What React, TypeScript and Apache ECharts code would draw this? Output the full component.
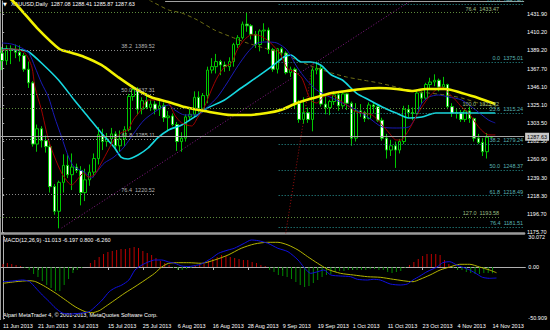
import React, { useEffect, useRef } from 'react';
import * as echarts from 'echarts';

// ---- tick labels ----
const dateLabels = ['11 Jun 2013', '21 Jun 2013', '3 Jul 2013', '15 Jul 2013', '25 Jul 2013', '6 Aug 2013', '16 Aug 2013', '28 Aug 2013', '9 Sep 2013', '19 Sep 2013', '1 Oct 2013', '11 Oct 2013', '23 Oct 2013', '4 Nov 2013', '14 Nov 2013'];
const priceTicks = [1431.9, 1410.2, 1389.2, 1367.7, 1346.1, 1325.1, 1303.5, 1282.5, 1260.9, 1239.3, 1218.3, 1196.7, 1175.7];
const macdTicks = [30.072, 0, -50.909];
const macdTickLabels = ['30.072', '0.00', '-50.909'];
const BAR_SLOTS = 120; // 113 daily bars + right shift

// ---- daily candles (XAUUSD) ----
const opens = [1386,1377,1391,1389,1387,1383,1367,1351,1279,1297,1283,1276,1229,1200,1234,1254,1243,1252,1248,1222,1237,1246,1262,1290,1282,1285,1291,1277,1285,1296,1335,1343,1320,1330,1322,1326,1320,1324,1310,1312,1302,1282,1286,1311,1314,1334,1321,1336,1366,1370,1376,1372,1370,1376,1396,1404,1420,1418,1408,1396,1412,1413,1390,1367,1391,1386,1363,1367,1327,1308,1316,1308,1366,1368,1326,1322,1329,1337,1324,1338,1327,1286,1318,1316,1309,1325,1323,1307,1286,1272,1277,1272,1282,1320,1316,1315,1339,1333,1349,1352,1354,1346,1349,1323,1315,1316,1308,1318,1309,1286,1281,1270,1287.08];
const highs = [1393,1395,1395,1396,1395,1386,1376,1353,1302,1300,1289,1282,1232,1236,1267,1266,1268,1256,1253,1250,1255,1268,1299,1297,1292,1298,1294,1295,1300,1338,1348,1346,1334,1339,1331,1330,1332,1328,1318,1315,1305,1293,1314,1321,1341,1341,1339,1370,1380,1385,1378,1376,1381,1398,1407,1423,1434,1420,1412,1414,1421,1416,1392,1392,1393,1388,1370,1369,1331,1334,1322,1369,1376,1371,1336,1331,1341,1339,1341,1339,1329,1327,1326,1318,1328,1328,1326,1310,1291,1284,1282,1285,1324,1325,1322,1343,1341,1351,1357,1361,1356,1358,1350,1327,1321,1319,1321,1323,1310,1291,1286,1292,1288.41];
const lows = [1366,1372,1373,1380,1376,1364,1345,1276,1270,1275,1269,1222,1196,1180,1222,1239,1225,1245,1207,1212,1230,1240,1255,1272,1276,1278,1273,1270,1276,1294,1330,1313,1314,1320,1318,1314,1312,1305,1294,1300,1271,1270,1282,1306,1310,1316,1318,1327,1362,1362,1360,1364,1365,1370,1392,1402,1411,1402,1392,1388,1400,1385,1364,1362,1380,1361,1358,1320,1304,1303,1304,1294,1361,1323,1314,1313,1325,1318,1320,1319,1277,1282,1311,1305,1308,1315,1305,1283,1262,1265,1251,1268,1279,1310,1307,1310,1326,1331,1343,1347,1341,1343,1320,1311,1309,1305,1305,1304,1282,1279,1265,1262,1285.87];
const closes = [1377,1391,1389,1387,1383,1367,1351,1279,1297,1283,1276,1229,1200,1234,1254,1243,1252,1248,1222,1237,1246,1262,1290,1282,1285,1291,1277,1285,1296,1335,1343,1320,1330,1322,1326,1320,1324,1310,1312,1302,1282,1286,1311,1314,1334,1321,1336,1366,1370,1376,1372,1370,1376,1396,1404,1420,1418,1408,1396,1412,1413,1390,1367,1391,1386,1363,1367,1327,1308,1316,1308,1366,1368,1326,1322,1329,1337,1324,1338,1327,1286,1318,1316,1309,1325,1323,1307,1286,1272,1277,1272,1282,1320,1316,1315,1339,1333,1349,1352,1354,1346,1349,1323,1315,1316,1308,1318,1309,1286,1281,1270,1287,1287.63];
const lastPrice = 1287.63;

// ---- moving averages: [bar index, price] ----
const maYellow = [[0,1453],[2.2,1448.4],[8,1415.4],[13.1,1390.8],[15.2,1387.2],[18.8,1381.4],[22.7,1372],[26.5,1357.9],[30.2,1345],[34,1334.4],[38.1,1328.5],[41.8,1322.6],[46.3,1317.9],[52.5,1313.2],[56.1,1313.2],[60.6,1315.5],[63.8,1319.1],[67.5,1327.3],[71.3,1333.2],[75.4,1339],[78.8,1341.4],[82.5,1343.8],[86.3,1345],[90.2,1343.8],[93.8,1341.4],[97,1343.8],[101.6,1343.8],[105.2,1339],[109,1333.2],[112.9,1326.1]];
const maCyan = [[0,1390.8],[4.5,1389.6],[6.1,1387.2],[9,1374.3],[12.9,1354.3],[16.5,1330.8],[19.7,1310.9],[22.7,1292.1],[25.6,1275.6],[27.2,1263.8],[28.8,1261.5],[31.1,1266.2],[33.4,1274.4],[35.6,1286.2],[38.1,1295.6],[41.1,1301.5],[44.7,1313.2],[47,1321.4],[50.9,1330.8],[54.7,1344.9],[58.4,1357.9],[62.2,1372],[64.5,1381.4],[66.1,1383.7],[68.4,1375.5],[70.6,1375.5],[72.9,1372],[75.4,1360.2],[77.9,1354.3],[81.1,1339],[84,1330.8],[87,1322.6],[90.2,1315.5],[93.1,1309.7],[96.1,1310.9],[99.3,1315.5],[102.2,1315.5],[109,1315.5],[112.9,1315.5]];
const maBlue = [[0,1397.8],[2.2,1396.6],[4.5,1391.9],[6.1,1386.1],[7.5,1369.6],[9,1350.8],[10.6,1334.3],[12,1310.8],[13.6,1287.3],[15.2,1263.8],[16.5,1252.1],[18.8,1246.2],[20.4,1239.2],[22,1248.6],[23.4,1256.8],[25.6,1263.8],[27.9,1275.6],[30.2,1292.1],[32.5,1307.3],[35.6,1319.1],[38.1,1325],[39.5,1319.1],[41.8,1313.2],[44.7,1313.2],[47,1322.6],[49.3,1334.4],[51.5,1350.8],[53.8,1369.6],[56.1,1386.1],[58.4,1397.8],[60.6,1399],[62.9,1397.8],[65.2,1389.6],[67.5,1369.6],[69.7,1354.3],[72,1342.6],[75,1334.4],[77.9,1327.3],[81.1,1319.1],[84,1309.7],[87,1299.1],[90.2,1297.9],[93.1,1299.1],[94.7,1310.8],[96.1,1327.3],[97.7,1334.4],[99.9,1336.7],[102.2,1334.4],[105.2,1330.8],[108.4,1319.1],[111.3,1307.4],[112.9,1303.8]];
const maRed = [[0,1389.6],[2.9,1390.8],[5.2,1386.1],[6.8,1369.6],[7.5,1346.1],[9,1319.1],[10.6,1283.8],[12,1263.8],[13.6,1245],[15.2,1233.3],[15.9,1230.9],[17.5,1239.2],[18.6,1245],[19.7,1240.3],[21.1,1242.7],[22.7,1256.8],[24.3,1272.1],[25.6,1283.8],[27.2,1292.1],[28.8,1295.6],[30,1307.4],[31.8,1319.1],[33.4,1330.8],[35.6,1330.8],[38.1,1327.3],[39.5,1313.2],[41.1,1303.8],[43.4,1300.3],[44.7,1309.7],[46.3,1322.6],[47.9,1342.6],[49.3,1357.9],[50.9,1369.6],[52.5,1374.3],[53.8,1389.6],[55.4,1401.4],[57,1407.2],[58.4,1407.2],[60,1403.7],[61.5,1397.8],[63.8,1383.7],[65.2,1368.4],[67,1363.7],[68.6,1356.7],[70.6,1330.8],[72,1327.3],[73.6,1334.4],[75.4,1336.7],[77.2,1330.8],[79.5,1322.6],[81.1,1316.7],[82.5,1315.5],[84.7,1313.2],[87,1301.5],[88.6,1292.1],[90.2,1283.8],[91.3,1283.8],[93.1,1295.6],[94.7,1310.8],[96.1,1322.6],[97.7,1334.4],[99.3,1342.6],[100.6,1346.1],[102.2,1339],[103.8,1330.8],[105.2,1322.6],[106.8,1315.5],[108.4,1303.8],[109.7,1295.6],[111.3,1289.8],[112.9,1289.8]];
const maOlive = [[25,1470],[33.6,1448.4],[38.1,1436.6],[41.1,1433.1],[44.7,1424.8],[48.6,1413.1],[52.5,1404.9],[56.1,1397.8],[60,1391.9],[63.8,1386.1],[67.5,1377.8],[71.3,1369.6],[75.4,1362.6],[78.8,1357.9],[82.5,1354.3],[86.3,1350.8],[90.2,1346.1],[93.8,1341.4],[97.7,1339],[101.5,1336.7],[105.2,1333.2],[109,1327.3],[113.1,1322.6]];

// ---- drawn objects ----
const trendLine = [[13.6, 1180.4], [93.8, 1448.4]];
const fibDiagonal = [[63.3, 1121.7], [71.1, 1375.01]];
const topLevel = { price: 1446.4, span: [37.3, 119.5] };
const fibGray = [['38.2', 1389.52], ['50.0', 1337.31], ['61.8', 1285.11], ['76.4', 1220.52]];
const fibGreen = [['76.4', 1433.47], ['100.0', 1321.62], ['127.0', 1193.58]];
const fibTeal = [['127.0', 1443.40], ['0.0', 1375.01], ['23.6', 1315.24], ['38.2', 1279.24], ['50.0', 1248.37], ['61.8', 1218.49], ['76.4', 1181.51]];
const fibGraySpan = [-0.5, 35.2];
const fibGreenSpan = [-0.5, 114];
const fibTealSpan = [63.3, 119.5];

// ---- MACD(12,26,9) ----
const macdHist = [3,4,3,2,1,-1,-3,-7,-10,-14,-18,-21,-24,-24,-18,-12,-6,-3,-1,0,4,7,10,13,15,16,17,18,18,19,20,19,16,14,12,9,6,4,2,-1,-3,-3,-2,-1,1,2,3,6,8,10,12,11,10,9,8,7,7,5,4,2,1,-3,-5,-8,-9,-10,-12,-15,-18,-20,-19,-16,-13,-10,-8,-7,-5,-4,-4,-3,-3,-3,-3,-3,-2,-2,-3,-3,-5,-6,-5,-4,-1,2,5,8,11,13,13,13,12,7,3,-1,-3,-3,-5,-6,-7,-7,-6,-6,-6.26];
const macdLine = [[0,-14.7],[2.2,-14],[4.5,-13],[6.1,-14.7],[7.5,-21],[9,-28],[10.6,-34.7],[12,-41],[13.6,-46],[15.2,-47],[17.5,-46.3],[19.7,-44.7],[21.1,-39.7],[22.7,-33],[24.3,-24.7],[25.6,-21],[27.2,-18],[28.8,-13],[30.2,-3],[31.8,2],[33.4,5.3],[34.7,7],[36.3,7],[37.9,5],[39.3,3.7],[40.9,1],[42.5,0.5],[44,1.5],[45.4,3],[47.7,8.7],[49.3,13.7],[51.5,17],[52.9,18.7],[55.2,23.7],[56.8,27],[58.4,26.3],[60.6,23.7],[62.9,18.7],[65.2,15.3],[67.5,7],[68.8,0],[70.4,-6.3],[72,-4.7],[73.4,-3],[75,-8],[77.2,-9],[79.5,-9.7],[81.1,-12.3],[83.4,-13],[84.7,-12.3],[86.3,-13],[88.6,-17],[90.9,-18],[92.5,-17],[93.8,-13],[95.4,-9],[97,-4.7],[99.3,0],[100.6,4.3],[102.2,5.3],[103.8,2],[105.2,-0.3],[106.8,-3],[108.4,-7],[109.7,-10.3],[111.3,-11.3],[112.9,-11]];
const macdSignal = [[0,-16.3],[2.9,-14.7],[6.1,-13.7],[7.5,-14.7],[9.7,-19.7],[12,-26],[14.3,-33],[16.5,-39.7],[18.8,-44.7],[20.4,-45.7],[22,-43.7],[23.4,-39.7],[25.6,-33],[27.9,-26],[30.2,-19.7],[32.5,-13],[34.7,-6.3],[36.3,0],[37.9,3.7],[40.2,4.3],[42.5,4.3],[45.4,3.7],[48.4,7],[51.5,12],[54.5,18.7],[57.5,23],[60.6,24.7],[62.9,24.7],[65.2,22],[67.5,17],[69.7,10.3],[72,3.7],[74.3,-2.3],[77.2,-6.3],[80.2,-8],[83.4,-9.7],[86.3,-10.3],[89.3,-12.3],[93.8,-14.7],[95.4,-12.3],[97.7,-8],[100,-3],[102.2,0],[104.5,2.7],[106.8,2.7],[109,0],[111.3,-3],[112.9,-5.7]];

const titleText = 'XAUUSD,Daily  1287.08 1288.41 1285.87 1287.63';
const macdTitle = 'MACD(12,26,9) -11.013 -6.197 0.800 -6.260';
const copyright = 'Alpari MetaTrader 4, \u00a9 2001-2013, MetaQuotes Software Corp.';

const FONT = 'Liberation Sans, Arial, sans-serif';

function fibSegments(levels: any[], span: number[], lineColor: string, textColor: string) {
  return levels.map(([lvl, price]) => [
    {
      coord: [span[0], price],
      lineStyle: { color: lineColor, type: [1, 2], width: 1 },
      label: {
        show: true,
        position: 'insideEndTop',
        distance: 1,
        formatter: `${lvl}  ${price.toFixed(2)}`,
        color: textColor,
        fontSize: 5.5,
        fontFamily: FONT,
      },
    },
    { coord: [span[1], price] },
  ]);
}

export default function App() {
  const ref = useRef<HTMLDivElement>(null);
  useEffect(() => {
    document.body.style.margin = '0';
    const chart = echarts.init(ref.current!, null, { renderer: 'svg' });
    const cats = Array.from({ length: BAR_SLOTS }, (_, i) => String(i));
    const candleData = opens.map((o, i) => [o, closes[i], lows[i], highs[i]]);
    const lineSeries = (data: number[][], color: string, width: number, extra: any = {}) => ({
      type: 'line',
      xAxisIndex: 2,
      yAxisIndex: 0,
      data,
      symbol: 'none',
      smooth: 0.25,
      silent: true,
      lineStyle: { color, width, ...extra },
      z: 3,
    });
    const option: any = {
      animation: false,
      backgroundColor: '#000000',
      grid: [
        { left: -2, width: 528, top: 1, height: 232 },
        { left: -2, width: 528, top: 236, height: 83 },
      ],
      xAxis: [
        {
          type: 'category', gridIndex: 0, data: cats, boundaryGap: true,
          axisLine: { show: true, lineStyle: { color: '#9a9a9a', width: 2.5 } },
          axisTick: { show: false }, axisLabel: { show: false }, splitLine: { show: false },
        },
        {
          type: 'category', gridIndex: 1, data: cats, boundaryGap: true,
          axisLine: { show: true, lineStyle: { color: '#b0b0b0', width: 1 } },
          axisTick: { show: true, alignWithLabel: true, length: 3, interval: (i: number) => i % 8 === 0 && i / 8 < dateLabels.length, lineStyle: { color: '#b0b0b0' } },
          axisLabel: {
            interval: 0, align: 'left', margin: 4, color: '#ffffff', fontSize: 5.5, fontFamily: FONT,
            formatter: (_v: string, i: number) => (i % 8 === 0 && i / 8 < dateLabels.length ? dateLabels[i / 8] : ''),
          },
          splitLine: { show: false },
        },
        { type: 'value', gridIndex: 0, min: -0.5, max: BAR_SLOTS - 0.5, show: false },
        { type: 'value', gridIndex: 1, min: -0.5, max: BAR_SLOTS - 0.5, show: false },
      ],
      yAxis: [
        {
          type: 'value', gridIndex: 0, position: 'right', min: 1174.5, max: 1447.17,
          axisLine: { show: true, lineStyle: { color: '#b0b0b0' } },
          axisTick: { show: true, length: 2, customValues: priceTicks, lineStyle: { color: '#b0b0b0' } },
          axisLabel: { customValues: priceTicks, margin: 3, color: '#ffffff', fontSize: 5.5, fontFamily: FONT, formatter: (v: number) => v.toFixed(2) },
          splitLine: { show: false },
        },
        {
          type: 'value', gridIndex: 1, position: 'right', min: -52, max: 31,
          axisLine: { show: true, lineStyle: { color: '#b0b0b0' } },
          axisTick: { show: true, length: 2, customValues: macdTicks, lineStyle: { color: '#b0b0b0' } },
          axisLabel: {
            customValues: macdTicks, margin: 3, color: '#ffffff', fontSize: 5.5, fontFamily: FONT,
            formatter: (v: number) => { const k = macdTicks.findIndex((t) => Math.abs(t - v) < 1e-6); return k >= 0 ? macdTickLabels[k] : ''; },
          },
          splitLine: { show: false },
        },
      ],
      series: [
        {
          type: 'candlestick', xAxisIndex: 0, yAxisIndex: 0, data: candleData, barWidth: 3,
          itemStyle: { color: '#000000', color0: '#ffffff', borderColor: '#00c800', borderColor0: '#00c800', borderWidth: 1 },
          z: 2,
          markLine: {
            silent: true, symbol: ['none', 'none'], animation: false, z: 10,
            lineStyle: { color: '#a8a8a8', type: 'solid', width: 1 },
            label: { show: true, position: 'end', distance: 1, formatter: lastPrice.toFixed(2), color: '#000', backgroundColor: '#c8c8c8', padding: [1, 2], fontSize: 5.5, fontFamily: FONT },
            data: [{ yAxis: lastPrice }],
          },
        },
        lineSeries(maOlive, '#6e6e14', 1, { type: [4, 3] }),
        lineSeries(maCyan, '#16d8e0', 1.6),
        lineSeries(maBlue, '#1a1ab4', 1),
        lineSeries(maRed, '#a00000', 1),
        lineSeries(maYellow, '#f2f200', 2.6),
        {
          type: 'line', xAxisIndex: 2, yAxisIndex: 0, data: trendLine, symbol: 'none', silent: true,
          lineStyle: { color: '#8a1a8a', width: 1, type: [1, 2] }, z: 1,
          markLine: {
            silent: true, symbol: ['none', 'none'], animation: false,
            data: [
              [
                { coord: [topLevel.span[0], topLevel.price], lineStyle: { color: '#a0a0a0', type: 'solid', width: 1 }, label: { show: false } },
                { coord: [topLevel.span[1], topLevel.price] },
              ],
              ...fibSegments(fibGray, fibGraySpan, '#8a8a8a', '#b4b4b4'),
              ...fibSegments(fibGreen, fibGreenSpan, '#5d8a3c', '#9cbf84'),
              ...fibSegments(fibTeal, fibTealSpan, '#2a9a9a', '#5ab4b4'),
            ],
          },
        },
        {
          type: 'line', xAxisIndex: 2, yAxisIndex: 0, data: fibDiagonal, symbol: 'none', silent: true,
          lineStyle: { color: '#a01010', width: 1, type: [1, 2] }, z: 1,
        },
        {
          type: 'bar', xAxisIndex: 1, yAxisIndex: 1, data: macdHist, barWidth: 1, silent: true,
          itemStyle: { color: (p: any) => (p.value >= 0 ? '#c00000' : '#008a00') },
        },
        {
          type: 'line', xAxisIndex: 3, yAxisIndex: 1, data: macdSignal, symbol: 'none', smooth: 0.25, silent: true,
          lineStyle: { color: '#b4b400', width: 1 },
        },
        {
          type: 'line', xAxisIndex: 3, yAxisIndex: 1, data: macdLine, symbol: 'none', smooth: 0.25, silent: true,
          lineStyle: { color: '#1010e0', width: 1 },
        },
      ],
      graphic: [
        { type: 'line', shape: { x1: 0.5, y1: 0, x2: 0.5, y2: 320 }, style: { stroke: '#9a9a9a', lineWidth: 1 }, silent: true },
        { type: 'text', x: 3, y: 1, style: { text: '\u25bc', fill: '#ffffff', fontSize: 5, fontFamily: 'DejaVu Sans' }, silent: true },
        { type: 'text', x: 11, y: 1, style: { text: titleText, fill: '#ffffff', fontSize: 5.5, fontFamily: FONT }, silent: true },
        { type: 'text', x: 3, y: 237, style: { text: macdTitle, fill: '#ffffff', fontSize: 5.5, fontFamily: FONT }, silent: true },
        { type: 'text', x: 3, y: 312, style: { text: copyright, fill: '#ffffff', fontSize: 5.5, fontFamily: FONT }, silent: true },
      ],
    };
    chart.setOption(option);
    return () => chart.dispose();
  }, []);
  return <div ref={ref} style={{ width: 550, height: 330, background: '#000' }} />;
}
